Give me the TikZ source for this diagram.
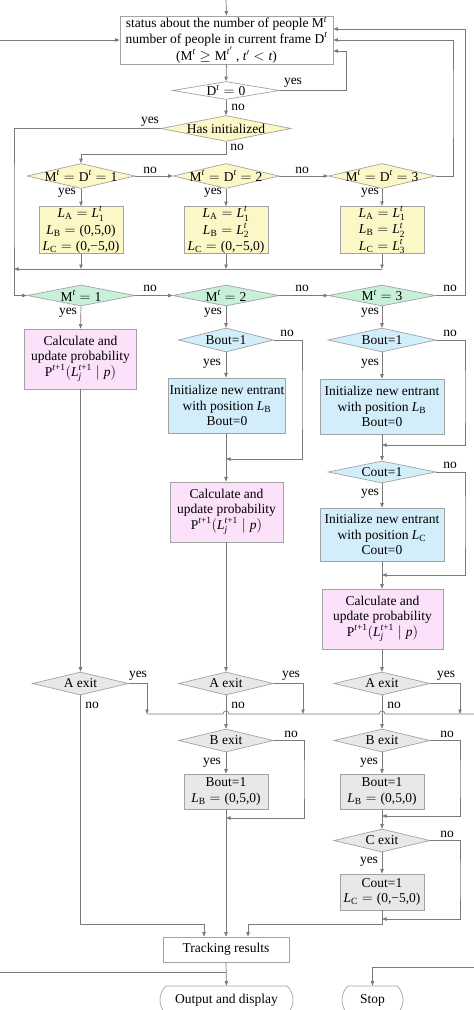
\documentclass[tikz,border=0pt]{standalone}
\usepackage{amsmath}
\usepackage{fontspec}
\setmainfont{Liberation Serif}
\usetikzlibrary{arrows.meta,shapes.geometric,shapes.misc}
\definecolor{lc}{HTML}{7A7A7A}
\definecolor{bc}{HTML}{A3A3A3}
\definecolor{fy}{HTML}{FBF7C6}
\definecolor{fg}{HTML}{C6F0D7}
\definecolor{fb}{HTML}{D2EEFA}
\definecolor{fp}{HTML}{FBE1FA}
\definecolor{fgr}{HTML}{E8E8E8}
\newcommand{\tI}[1]{\text{\itshape #1}}
\newcommand{\Mt}{\text{M}^{\tI{t}}}
\newcommand{\Dt}{\text{D}^{\tI{t}}}
\newcommand{\myL}[1]{\tI{L}_{\text{#1}}}
\newcommand{\myLt}[1]{\tI{L}^{\tI{t}}_{\text{#1}}}
\newcommand{\Pupd}{$\text{P}^{\tI{t}\text{+1}}(\tI{L}^{\tI{t}\text{+1}}_{\tI{j}}\mid \tI{p})$}
\begin{document}
\begin{tikzpicture}[x=1pt,y=-1pt,
 every node/.style={font=\fontsize{13.5}{15.5}\selectfont},
 line/.style={draw=lc, line width=0.7pt},
 arr/.style={line, -{Triangle[length=4.5pt,width=3.4pt]}},
 box/.style={draw=bc, line width=0.7pt, rectangle, align=center, inner sep=0pt},
 ybox/.style={box, fill=fy, minimum width=84pt, minimum height=46pt, font=\fontsize{13.5}{16.5}\selectfont},
 dia/.style={draw=bc, line width=0.7pt, diamond, inner sep=0pt},
 term/.style={draw=bc, line width=0.7pt, rounded rectangle, rounded rectangle arc length=90, inner sep=0pt},
 lab/.style={inner sep=0pt}]
\useasboundingbox (0,0) rectangle (474,1010);
\clip (0,0) rectangle (474,1010);

% ---------- nodes ----------
\node[box, fill=white, minimum width=213pt, minimum height=48pt] (st) at (226.5,40)
 {status about the number of people $\Mt$\\number of people in current frame $\Dt$\\($\Mt \geq \text{M}^{\tI{t}'}$ , $\tI{t}'<\tI{t}$)};
\node[dia, fill=white, minimum width=107pt, minimum height=18pt, label=center:{$\Dt = \text{0}$}] (d0) at (226,90.5) {};
\node[dia, fill=fy, minimum width=130pt, minimum height=26pt, label=center:{Has initialized}] (hi) at (226,128.5) {};

\node[dia, fill=fy, minimum width=108pt, minimum height=25pt, label=center:{$\Mt = \Dt = \text{1}$}] (md1) at (81,176) {};
\node[dia, fill=fy, minimum width=106pt, minimum height=25pt, label=center:{$\Mt = \Dt = \text{2}$}] (md2) at (226,176) {};
\node[dia, fill=fy, minimum width=107pt, minimum height=25pt, label=center:{$\Mt = \Dt = \text{3}$}] (md3) at (382,176) {};

\node[ybox] (y1) at (81,230)
 {$\myL{A} = \myLt{1}$\\$\myL{B} = \text{(0,5,0)}$\\$\myL{C} = \text{(0,−5,0)}$};
\node[ybox] (y2) at (226,230)
 {$\myL{A} = \myLt{1}$\\$\myL{B} = \myLt{2}$\\$\myL{C} = \text{(0,−5,0)}$};
\node[ybox] (y3) at (382,230)
 {$\myL{A} = \myLt{1}$\\$\myL{B} = \myLt{2}$\\$\myL{C} = \myLt{3}$};

\node[dia, fill=fg, minimum width=108pt, minimum height=21pt, label=center:{$\Mt = \text{1}$}] (g1) at (81,295.5) {};
\node[dia, fill=fg, minimum width=106pt, minimum height=21pt, label=center:{$\Mt = \text{2}$}] (g2) at (226,295.5) {};
\node[dia, fill=fg, minimum width=107pt, minimum height=21pt, label=center:{$\Mt = \text{3}$}] (g3) at (382,295.5) {};

\node[box, fill=fp, minimum width=112pt, minimum height=60pt] (p1) at (80.5,359)
 {Calculate and\\update probability\\\Pupd};

\node[dia, fill=fb, minimum width=95pt, minimum height=24pt, label=center:{Bout=1}] (bo2) at (226,340) {};
\node[box, fill=fb, minimum width=117pt, minimum height=55pt] (ib2) at (227,405.5)
 {Initialize new entrant\\with position $\myL{B}$\\Bout=0};
\node[box, fill=fp, minimum width=113pt, minimum height=60pt] (p2) at (226.5,512)
 {Calculate and\\update probability\\\Pupd};

\node[dia, fill=fb, minimum width=108pt, minimum height=24pt, label=center:{Bout=1}] (bo3) at (382,340) {};
\node[box, fill=fb, minimum width=124pt, minimum height=55pt] (ib3) at (382,406.5)
 {Initialize new entrant\\with position $\myL{B}$\\Bout=0};
\node[dia, fill=fb, minimum width=108pt, minimum height=22pt, label=center:{Cout=1}] (co3) at (382,472) {};
\node[box, fill=fb, minimum width=124pt, minimum height=53pt] (ic3) at (382,534.5)
 {Initialize new entrant\\with position $\myL{C}$\\Cout=0};
\node[box, fill=fp, minimum width=121pt, minimum height=60pt] (p3) at (382.5,619)
 {Calculate and\\update probability\\\Pupd};

\node[dia, fill=fgr, minimum width=96pt, minimum height=23pt, label=center:{A exit}] (a1) at (80.5,683.5) {};
\node[dia, fill=fgr, minimum width=95pt, minimum height=23pt, label=center:{A exit}] (a2) at (226,683.5) {};
\node[dia, fill=fgr, minimum width=96pt, minimum height=23pt, label=center:{A exit}] (a3) at (382,683.5) {};

\node[dia, fill=fgr, minimum width=95pt, minimum height=23pt, label=center:{B exit}] (b2) at (226,740.5) {};
\node[box, fill=fgr, minimum width=84pt, minimum height=35pt] (bb2) at (226,791.5)
 {Bout=1\\$\myL{B} = \text{(0,5,0)}$};
\node[dia, fill=fgr, minimum width=96pt, minimum height=23pt, label=center:{B exit}] (b3) at (382,740.5) {};
\node[box, fill=fgr, minimum width=84pt, minimum height=35pt] (bb3) at (382,791.5)
 {Bout=1\\$\myL{B} = \text{(0,5,0)}$};
\node[dia, fill=fgr, minimum width=96pt, minimum height=23pt, label=center:{C exit}] (c3) at (382,840.5) {};
\node[box, fill=fgr, minimum width=84pt, minimum height=36pt] (cb3) at (382,892)
 {Cout=1\\$\myL{C} = \text{(0,−5,0)}$};

\node[box, fill=white, minimum width=126pt, minimum height=25pt] (tr) at (226,949.5) {Tracking results};
\node[term, fill=white, minimum width=133pt, minimum height=28pt] (out) at (226.5,1000) {Output and display};
\node[term, fill=white, minimum width=61pt, minimum height=28pt] (stop) at (372.5,1000) {Stop};

% ---------- coordinates ----------
\coordinate (top) at (226,0);
\coordinate (lin) at (0,40);
\coordinate (k1) at (346,51);
\coordinate (k2) at (465,29);
\coordinate (k3) at (453,100);
\coordinate (xl) at (14,200);
\coordinate (mrg) at (14,269);
\coordinate (r2) at (302,400);
\coordinate (j2) at (226,459);
\coordinate (r3) at (465,400);
\coordinate (r3b) at (465,520);
\coordinate (j3) at (382,445);
\coordinate (j3b) at (382,575);
\coordinate (h1) at (147,714);
\coordinate (h2) at (303,714);
\coordinate (h3) at (460,714);
\coordinate (redge) at (474,714);
\coordinate (r4) at (304,780);
\coordinate (j4) at (226,818);
\coordinate (r5) at (460,780);
\coordinate (r6) at (460,880);
\coordinate (j5) at (382,816);
\coordinate (j6) at (382,919);
\coordinate (q1) at (204,924);
\coordinate (q3) at (248,924);
\coordinate (lb) at (0,972);
\coordinate (rb) at (474,967);

% ---------- connectors ----------
\draw[arr] (top) -- (st.north);
\draw[arr] (lin) -- (lin -| st.west);
\draw[arr] (st.south) -- (d0.north);
\draw[arr] (d0.east) -| (k1) -- (k1 -| st.east);
\draw[arr] (d0.south) -- (hi.north);
\draw[arr] (hi.south) -- ++(0,12) -| (md1.north);
\draw[arr] (hi.west) -| (xl) |- (g1.west);
\draw[arr] (md1.east) -- (md2.west);
\draw[arr] (md2.east) -- (md3.west);
\draw[arr] (md3.east) -| (k3) |- (st.east);
\draw[arr] (g3.east) -| (k2) -- (k2 -| st.east);
\draw[arr] (md1.south) -- (y1.north);
\draw[arr] (md2.south) -- (y2.north);
\draw[arr] (md3.south) -- (y3.north);
\draw[arr] (y1.south) -- (y1.south |- mrg);
\draw[arr] (y2.south) -- (y2.south |- mrg);
\draw[arr] (y3.south) -- (y3.south |- mrg);
\draw[arr] (y3.south |- mrg) -- (mrg);
\draw[arr] (g1.east) -- (g2.west);
\draw[arr] (g2.east) -- (g3.west);
\draw[arr] (g1.south) -- (p1.north);
\draw[arr] (g2.south) -- (bo2.north);
\draw[arr] (g3.south) -- (bo3.north);
\draw[arr] (bo2.south) -- (bo2.south |- ib2.north);
\draw[arr] (bo2.east) -| (r2) |- (j2);
\draw[arr] (ib2.south -| j2) -- (p2.north -| j2);
\draw[arr] (bo3.south) -- (ib3.north);
\draw[arr] (bo3.east) -| (r3) |- (j3);
\draw[arr] (ib3.south) -- (co3.north);
\draw[arr] (co3.east) -| (r3b) |- (j3b);
\draw[arr] (co3.south) -- (ic3.north);
\draw[arr] (ic3.south) -- (p3.north -| co3.south);
\draw[arr] (p1.south -| a1.north) -- (a1.north);
\draw[arr] (p2.south -| a2.north) -- (a2.north);
\draw[arr] (p3.south -| a3.north) -- (a3.north);
\draw[arr] (a1.east) -| (h1);
\draw[arr] (a2.east) -| (h2);
\draw[arr] (a3.east) -| (h3);
\draw[line] (h1) -- ([xshift=-3pt]h1 -| a2.south) arc[start angle=180,end angle=0,radius=3pt]
  -- ([xshift=-3pt]h1 -| a3.south) arc[start angle=180,end angle=0,radius=3pt] -- (redge);
\draw[arr] (a2.south) -- (b2.north);
\draw[arr] (a3.south) -- (b3.north);
\draw[arr] (b2.east) -| (r4) |- (j4);
\draw[arr] (b2.south) -- (bb2.north);
\draw[arr] (bb2.south) -- (tr.north);
\draw[arr] (b3.east) -| (r5) |- (j5);
\draw[arr] (b3.south) -- (bb3.north);
\draw[arr] (bb3.south) -- (c3.north);
\draw[arr] (c3.east) -| (r6) |- (j6);
\draw[arr] (c3.south) -- (cb3.north);
\draw[arr] (cb3.south) |- (q3) -- (q3 |- tr.north);
\draw[arr] (a1.south) |- (q1) -- (q1 |- tr.north);
\draw[line] (lb) -- (lb -| tr.south);
\draw[arr] (tr.south) -- (out.north);
\draw[arr] (rb) -| (stop.north);

% ---------- labels ----------
\node[lab] (t01) at (293,83) {yes};
\node[lab] (t02) at (238,107) {no};
\node[lab] (t03) at (150,122) {yes};
\node[lab] (t04) at (237,147) {no};
\node[lab] (t05) at (150,170) {no};
\node[lab] (t06) at (302,170) {no};
\node[lab] (t07) at (67,193) {yes};
\node[lab] (t08) at (213,193) {yes};
\node[lab] (t09) at (370,193) {yes};
\node[lab] (t10) at (150,288) {no};
\node[lab] (t11) at (302,288) {no};
\node[lab] (t12) at (450,288) {no};
\node[lab] (t13) at (68,313) {yes};
\node[lab] (t14) at (213,313) {yes};
\node[lab] (t15) at (370,313) {yes};
\node[lab] (t16) at (287,333) {no};
\node[lab] (t17) at (450,333) {no};
\node[lab] (t18) at (212,364) {yes};
\node[lab] (t19) at (370,364) {yes};
\node[lab] (t20) at (450,465) {no};
\node[lab] (t21) at (370,494) {yes};
\node[lab] (t22) at (138,676) {yes};
\node[lab] (t23) at (291,676) {yes};
\node[lab] (t24) at (446,676) {yes};
\node[lab] (t25) at (92,705) {no};
\node[lab] (t26) at (238,705) {no};
\node[lab] (t27) at (394,705) {no};
\node[lab] (t28) at (291,734) {no};
\node[lab] (t29) at (447,734) {no};
\node[lab] (t30) at (212,763) {yes};
\node[lab] (t31) at (369,763) {yes};
\node[lab] (t32) at (447,834) {no};
\node[lab] (t33) at (369,862) {yes};
\end{tikzpicture}
\end{document}
